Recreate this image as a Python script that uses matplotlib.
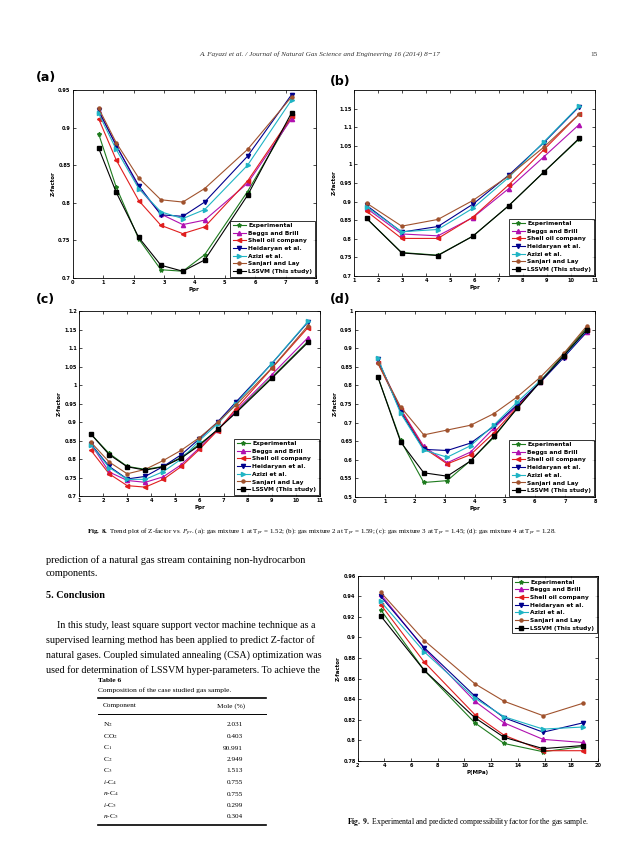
import matplotlib
matplotlib.use('Agg')
import matplotlib.pyplot as plt
import numpy as np

plt.rcParams['mathtext.fontset'] = 'stix'

# ---- data ----
labels = ['Experimental', 'Beggs and Brill', 'Shell oil company', 'Heidaryan et al.',
          'Azizi et al.', 'Sanjari and Lay', 'LSSVM (This study)']

# (a) gas mixture 1
ppr_a = [0.85, 1.43, 2.17, 2.9, 3.62, 4.34, 5.75, 7.2]
za = [
    [0.892, 0.821, 0.752, 0.711, 0.709, 0.731, 0.815, 0.915],
    [0.922, 0.877, 0.820, 0.785, 0.771, 0.777, 0.826, 0.912],
    [0.912, 0.857, 0.803, 0.770, 0.759, 0.768, 0.829, 0.915],
    [0.923, 0.876, 0.823, 0.784, 0.782, 0.801, 0.862, 0.944],
    [0.919, 0.871, 0.819, 0.788, 0.779, 0.791, 0.850, 0.937],
    [0.926, 0.880, 0.833, 0.804, 0.801, 0.819, 0.871, 0.941],
    [0.873, 0.814, 0.754, 0.717, 0.709, 0.724, 0.810, 0.920],
]

# (b) gas mixture 2
ppr_b = [1.52, 2.98, 4.48, 5.93, 7.42, 8.87, 10.34]
zb = [
    [0.855, 0.763, 0.756, 0.807, 0.889, 0.979, 1.068],
    [0.882, 0.813, 0.808, 0.857, 0.935, 1.020, 1.107],
    [0.874, 0.801, 0.801, 0.858, 0.945, 1.039, 1.135],
    [0.890, 0.818, 0.833, 0.893, 0.971, 1.058, 1.155],
    [0.886, 0.819, 0.825, 0.882, 0.965, 1.060, 1.157],
    [0.896, 0.834, 0.852, 0.903, 0.969, 1.046, 1.135],
    [0.855, 0.762, 0.755, 0.807, 0.889, 0.979, 1.070],
]

# (c) gas mixture 3
ppr_c = [1.5, 2.25, 3.0, 3.75, 4.5, 5.25, 6.0, 6.75, 7.5, 9.0, 10.5]
zc = [
    [0.867, 0.815, 0.780, 0.772, 0.780, 0.805, 0.840, 0.878, 0.927, 1.021, 1.118],
    [0.840, 0.765, 0.742, 0.737, 0.752, 0.785, 0.830, 0.878, 0.930, 1.028, 1.128],
    [0.823, 0.760, 0.728, 0.724, 0.745, 0.780, 0.826, 0.877, 0.935, 1.045, 1.155],
    [0.840, 0.780, 0.746, 0.753, 0.780, 0.812, 0.855, 0.900, 0.953, 1.058, 1.170],
    [0.838, 0.777, 0.745, 0.745, 0.766, 0.800, 0.850, 0.895, 0.948, 1.058, 1.172],
    [0.845, 0.792, 0.760, 0.772, 0.796, 0.824, 0.858, 0.899, 0.945, 1.046, 1.160],
    [0.867, 0.812, 0.779, 0.770, 0.779, 0.803, 0.837, 0.880, 0.924, 1.018, 1.115],
]

# (d) gas mixture 4
ppr_d = [0.77, 1.53, 2.3, 3.08, 3.86, 4.63, 5.41, 6.18, 6.96, 7.73]
zd = [
    [0.823, 0.652, 0.539, 0.544, 0.598, 0.660, 0.740, 0.812, 0.884, 0.955],
    [0.866, 0.737, 0.636, 0.592, 0.621, 0.685, 0.745, 0.810, 0.877, 0.943],
    [0.860, 0.735, 0.632, 0.589, 0.614, 0.672, 0.742, 0.812, 0.879, 0.950],
    [0.870, 0.729, 0.628, 0.625, 0.645, 0.690, 0.748, 0.808, 0.875, 0.945],
    [0.873, 0.725, 0.626, 0.607, 0.638, 0.693, 0.755, 0.813, 0.878, 0.948],
    [0.860, 0.742, 0.667, 0.680, 0.693, 0.724, 0.769, 0.822, 0.886, 0.960],
    [0.823, 0.648, 0.565, 0.556, 0.597, 0.663, 0.738, 0.810, 0.880, 0.950],
]

# Fig. 9 gas sample
p_mpa = [3.72, 6.99, 10.78, 12.97, 15.89, 18.85]
z9 = [
    [0.927, 0.868, 0.817, 0.797, 0.789, 0.794],
    [0.942, 0.889, 0.838, 0.817, 0.801, 0.798],
    [0.932, 0.876, 0.825, 0.805, 0.790, 0.790],
    [0.940, 0.890, 0.843, 0.822, 0.808, 0.817],
    [0.935, 0.886, 0.841, 0.823, 0.811, 0.813],
    [0.944, 0.897, 0.855, 0.838, 0.824, 0.836],
    [0.921, 0.868, 0.822, 0.803, 0.792, 0.795],
]

components = ['N$_2$', 'CO$_2$', 'C$_1$', 'C$_2$', 'C$_3$', '$i$-C$_4$', '$n$-C$_4$', '$i$-C$_5$', '$n$-C$_5$']
mole = ['2.031', '0.403', '90.991', '2.949', '1.513', '0.755', '0.755', '0.299', '0.304']

colors = ['#1e7b1e', '#b010b0', '#e01e1e', '#00008c', '#1fb4c4', '#a0522d', 'black']
markers = ['*', '^', '<', 'v', '>', 'o', 's']
msizes = [3.0, 3.0, 3.0, 3.0, 3.0, 2.2, 2.8]

W, H = 638, 851
fig = plt.figure(figsize=(6.38, 8.51), dpi=100)


def box(x0, y0, x1, y1):
    return [x0 / W, 1 - y1 / H, (x1 - x0) / W, (y1 - y0) / H]


def panel(rect, x, ys, xlim, ylim, xticks, yticks, xlabel, loc='lower right'):
    ax = fig.add_axes(box(*rect))
    for i in range(len(labels)):
        ax.plot(x, ys[i], color=colors[i], marker=markers[i], ms=msizes[i],
                lw=0.8, label=labels[i])
    ax.set_xlim(xlim)
    ax.set_ylim(ylim)
    ax.set_xticks(xticks)
    ax.set_yticks(yticks)
    ax.set_xticklabels(['%g' % t for t in xticks], fontweight='bold')
    ax.set_yticklabels(['%g' % t for t in yticks], fontweight='bold')
    ax.tick_params(direction='in', top=True, right=True, length=2, width=0.5,
                   labelsize=3.6, pad=1.5)
    for s in ax.spines.values():
        s.set_linewidth(0.6)
    ax.set_xlabel(xlabel, fontsize=4, fontweight='bold', labelpad=1.5)
    ax.set_ylabel('Z-factor', fontsize=4, fontweight='bold', labelpad=2)
    leg = ax.legend(loc=loc, fontsize=4.2, frameon=True, fancybox=False,
                    edgecolor='black', handlelength=2.2, borderpad=0.4,
                    labelspacing=0.45, borderaxespad=0.25, handletextpad=0.45)
    leg.get_frame().set_linewidth(0.7)
    for t in leg.get_texts():
        t.set_fontweight('bold')
    return ax


def tag(x, y, s):
    fig.text(x / W, 1 - y / H, s, fontsize=9, fontweight='bold', ha='left', va='center')


panel((72.7, 90, 316, 278), ppr_a, za, (0, 8), (0.7, 0.95),
      list(range(0, 9)), [0.7, 0.75, 0.8, 0.85, 0.9, 0.95], 'Ppr')
tag(36, 78, '(a)')
panel((354, 90, 595, 276), ppr_b, zb, (1, 11), (0.7, 1.2),
      list(range(1, 12)), [0.7, 0.75, 0.8, 0.85, 0.9, 0.95, 1, 1.05, 1.1, 1.15], 'Ppr')
tag(330, 81, '(b)')
panel((79, 311, 320, 496), ppr_c, zc, (1, 11), (0.7, 1.2),
      list(range(1, 12)), [0.7, 0.75, 0.8, 0.85, 0.9, 0.95, 1, 1.05, 1.1, 1.15, 1.2], 'Ppr')
tag(36, 299, '(c)')
panel((354.7, 311, 595, 497), ppr_d, zd, (0, 8), (0.5, 1.0),
      list(range(0, 9)), [0.5, 0.55, 0.6, 0.65, 0.7, 0.75, 0.8, 0.85, 0.9, 0.95, 1], 'Ppr')
tag(330, 299, '(d)')
panel((357.7, 575.7, 598, 761), p_mpa, z9, (2, 20), (0.78, 0.96),
      list(range(2, 21, 2)), [0.78, 0.8, 0.82, 0.84, 0.86, 0.88, 0.9, 0.92, 0.94, 0.96],
      'P(MPa)', loc='upper right')

serif = 'Liberation Serif'


def txt(x, y, s, size=6.8, **kw):
    kw.setdefault('ha', 'left')
    kw.setdefault('va', 'center')
    fig.text(x / W, 1 - y / H, s, fontsize=size, family=serif, **kw)


# header
txt(320, 54, 'A. Fayazi et al. / Journal of Natural Gas Science and Engineering 16 (2014) 8\u221217',
    size=5.2, ha='center', style='italic', color='#333333')
txt(598, 54, '15', size=5.2, ha='right', color='#333333')

# captions
txt(322, 532, r'$\mathbf{Fig.\ 8.}$ Trend plot of Z-factor vs. $P_{pr}$. (a): gas mixture 1 at T$_{pr}$ = 1.52; '
    '(b): gas mixture 2 at T$_{pr}$ = 1.59; (c): gas mixture 3 at T$_{pr}$ = 1.45; '
    '(d): gas mixture 4 at T$_{pr}$ = 1.28.', size=5.0, ha='center')
txt(468, 822, r'$\mathbf{Fig.\ 9.}$ Experimental and predicted compressibility factor for the gas sample.',
    size=5.6, ha='center')

# body text
txt(46, 560, 'prediction of a natural gas stream containing non-hydrocarbon', size=7.5)
txt(46, 574, 'components.', size=7.5)
txt(46, 596, '5. Conclusion', size=7.3, fontweight='bold')
body = ['In this study, least square support vector machine technique as a',
        'supervised learning method has been applied to predict Z-factor of',
        'natural gases. Coupled simulated annealing (CSA) optimization was',
        'used for determination of LSSVM hyper-parameters. To achieve the']
for i, line in enumerate(body):
    txt(57 if i == 0 else 46, 625 + i * 15.2, line, size=7.2)

# Table 6
txt(98, 680, 'Table 6', size=5.4, fontweight='bold')
txt(98, 690, 'Composition of the case studied gas sample.', size=5.4)
fig.add_artist(plt.Line2D([98 / W, 266 / W], [1 - 698 / H] * 2, color='black', lw=1.2))
txt(103, 706, 'Component', size=5.2)
txt(245, 706, 'Mole (%)', size=5.2, ha='right')
fig.add_artist(plt.Line2D([98 / W, 266 / W], [1 - 714 / H] * 2, color='black', lw=0.7))
for i, (c, m) in enumerate(zip(components, mole)):
    y = 725 + i * 11.5
    txt(103, y, c, size=5.4)
    txt(243, y, m, size=5.2, ha='right')
fig.add_artist(plt.Line2D([98 / W, 266 / W], [1 - 825 / H] * 2, color='black', lw=1.2))

fig.savefig('out.png', dpi=100)
